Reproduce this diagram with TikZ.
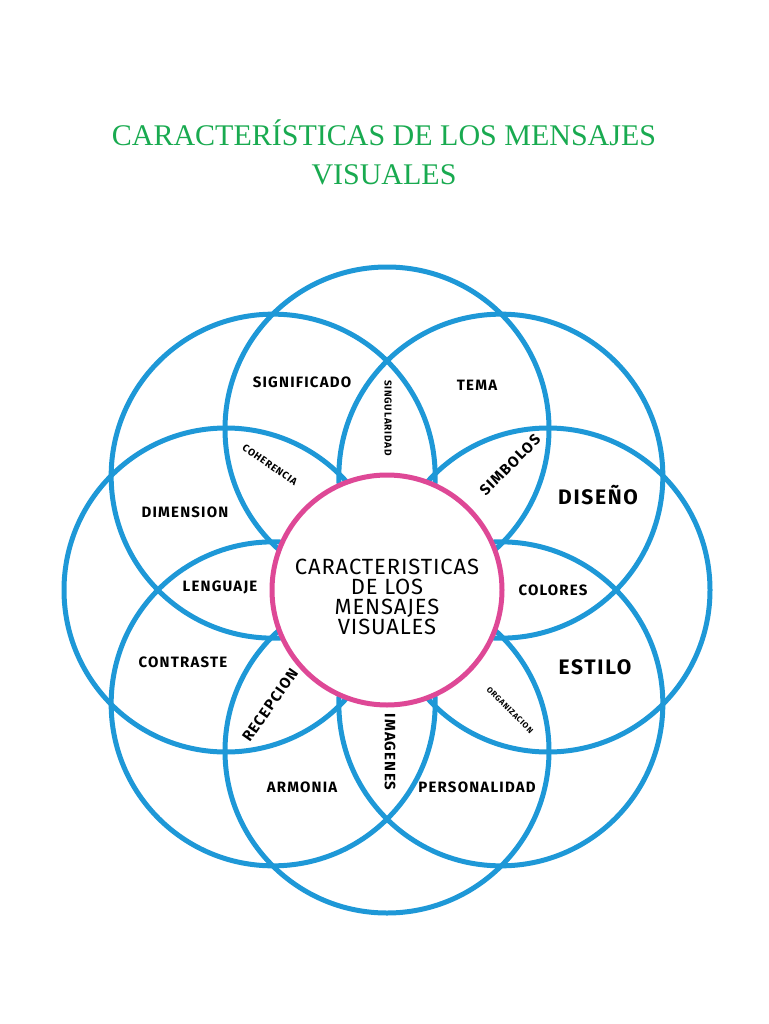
\documentclass[tikz,border=0pt]{standalone}
\usepackage{fontspec}
\usetikzlibrary{calc}
\setmainfont{Liberation Serif}
\newfontfamily\lbl[LetterSpace=8]{Fira Sans}
\newfontfamily\ctr[LetterSpace=4]{Fira Sans}
\definecolor{bl}{RGB}{30,152,215}
\definecolor{pk}{RGB}{222,72,150}
\definecolor{gr}{RGB}{25,170,80}
\begin{document}
\begin{tikzpicture}[x=1pt,y=-1pt,
  ring/.style={draw=bl,line width=5pt},
  lab/.style={font=\lbl\bfseries\fontsize{15}{15}\selectfont,inner sep=1pt},
  big/.style={font=\lbl\bfseries\fontsize{21}{21}\selectfont,inner sep=1pt},
  sm/.style={font=\lbl\bfseries\fontsize{10}{10}\selectfont,inner sep=1pt}]
\useasboundingbox (0,0) rectangle (768,1024);
\node[font=\fontsize{30}{39}\selectfont,text=gr,align=center] (title) at (384,152) {CARACTERÍSTICAS DE LOS MENSAJES\\VISUALES};
\foreach \a in {0,45,...,315}{
  \draw[ring] ($(387,590)+(\a:161)$) circle[radius=162];
}
\draw[draw=pk,line width=5pt,fill=white] (387,590) circle[radius=115];
\node[font=\ctr\fontsize{22}{20}\selectfont,align=center] (c) at (387,597) {CARACTERISTICAS\\DE LOS\\MENSAJES\\VISUALES};
\node[lab] (a1) at (302,382) {SIGNIFICADO};
\node[sm,rotate=-90] (a2) at (388,418) {SINGULARIDAD};
\node[lab] (a3) at (477,385) {TEMA};
\node[sm,rotate=-35] (a4) at (270,465) {COHERENCIA};
\node[lab,rotate=45] (a5) at (510,465) {SIMBOLOS};
\node[big] (a6) at (598,495) {DISEÑO};
\node[lab] (a7) at (185,512) {DIMENSION};
\node[lab] (a8) at (220,587) {LENGUAJE};
\node[lab] (a9) at (553,590) {COLORES};
\node[lab] (a10) at (183,662) {CONTRASTE};
\node[big] (a11) at (595,667) {ESTILO};
\node[lab,rotate=55] (a12) at (270,705) {RECEPCION};
\node[font=\lbl\bfseries\fontsize{8}{8}\selectfont,rotate=-45] (a13) at (510,710) {ORGANIZACION};
\node[lab,rotate=-90] (a14) at (390,752) {IMAGENES};
\node[lab] (a15) at (302,787) {ARMONIA};
\node[lab] (a16) at (477,787) {PERSONALIDAD};
\end{tikzpicture}
\end{document}
